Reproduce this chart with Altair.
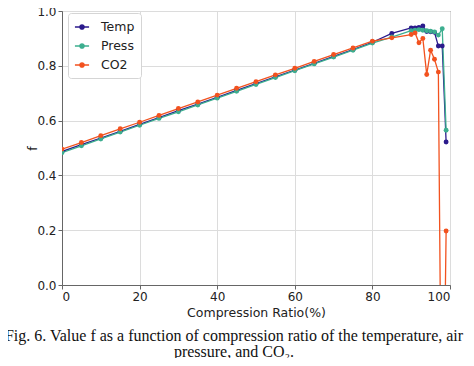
import altair as alt
import pandas as pd

x_vals = [0, 5, 10, 15, 20, 25, 30, 35, 40, 45, 50, 55, 60, 65, 70, 75, 80, 85,
          90, 91, 92, 93, 94, 95, 96, 97, 98, 99]

temp = [0.487, 0.512, 0.536, 0.561, 0.586, 0.611, 0.636, 0.660, 0.685, 0.710,
        0.735, 0.760, 0.784, 0.809, 0.834, 0.859, 0.886, 0.918,
        0.938, 0.938, 0.940, 0.945, 0.925, 0.924, 0.922, 0.872, 0.872, 0.522]

press = [0.483, 0.508, 0.533, 0.558, 0.583, 0.608, 0.632, 0.657, 0.682, 0.707,
         0.732, 0.757, 0.782, 0.807, 0.832, 0.857, 0.883, 0.905,
         0.928, 0.930, 0.932, 0.930, 0.928, 0.926, 0.924, 0.912, 0.935, 0.565]

co2 = [0.496, 0.520, 0.545, 0.570, 0.594, 0.619, 0.644, 0.668, 0.693, 0.718,
       0.742, 0.767, 0.791, 0.816, 0.841, 0.865, 0.890, 0.902,
       0.914, 0.920, 0.884, 0.900, 0.768, 0.857, 0.824, 0.777, -0.9, 0.197]

series_names = ["Temp", "Press", "CO2"]
series_colors = ["#2b1a8c", "#3cae8f", "#f2521f"]

rows = []
for name, vals in zip(series_names, [temp, press, co2]):
    for xv, yv in zip(x_vals, vals):
        rows.append({"ratio": xv, "f": yv, "series": name})
df = pd.DataFrame(rows)

color = alt.Color(
    "series:N",
    scale=alt.Scale(domain=series_names, range=series_colors),
    legend=alt.Legend(
        title=None,
        orient="none",
        legendX=6, legendY=2,
        symbolType="M-1,0H1M0.3,0A0.3,0.3,0,1,1,-0.3,0A0.3,0.3,0,1,1,0.3,0",
        symbolSize=200,
        symbolStrokeWidth=1.5,
        labelFont="DejaVu Sans",
        labelFontSize=12.5,
        labelColor="#222",
        rowPadding=4,
        padding=6,
        strokeColor="#d5d5d5",
        fillColor="white",
        cornerRadius=3,
        labelOffset=11,
    ),
)

xenc = alt.X("ratio:Q", scale=alt.Scale(domain=[0, 100], nice=False),
             axis=alt.Axis(values=[0, 20, 40, 60, 80, 100], title="Compression Ratio(%)"))
yenc = alt.Y("f:Q", scale=alt.Scale(domain=[0, 1], nice=False),
             axis=alt.Axis(values=[0, 0.2, 0.4, 0.6, 0.8, 1.0], format=".1f", title="f"))

base = alt.Chart(df).encode(x=xenc, y=yenc, order="ratio:Q")

lines = base.mark_line(strokeWidth=1.3, clip=True).encode(color=color, detail="series:N")
points = base.mark_circle(size=24, opacity=1, clip=True).encode(
    color=alt.Color("series:N", scale=alt.Scale(domain=series_names, range=series_colors), legend=None)
)

chart = alt.layer(lines, points).properties(
    width=388, height=274,
    autosize=alt.AutoSizeParams(type="none"),
    padding={"left": 54, "top": 3, "right": 16, "bottom": 73},
    title=alt.TitleParams(
        text=["Fig. 6.  Value f as a function of compression ratio of the temperature, air",
              "pressure, and CO₂."],
        orient="bottom",
        anchor="middle",
        font="Liberation Serif",
        fontSize=16,
        fontWeight="normal",
        color="#111",
        lineHeight=16,
        offset=9,
        dx=-22,
    ),
).configure_view(
    stroke="#444", strokeWidth=1
).configure_axis(
    labelFont="DejaVu Sans", labelFontSize=12, labelColor="#222",
    titleFont="DejaVu Sans", titleFontSize=12.5, titleFontWeight="normal", titleColor="#222",
    gridColor="#dcdcdc", gridWidth=1, domainColor="#666", tickColor="#666",
    tickSize=4, labelPadding=2,
).configure_axisY(titlePadding=-3).configure_axisX(titlePadding=4)

chart.save("out.html", embed_options={"renderer": "svg", "actions": False})
